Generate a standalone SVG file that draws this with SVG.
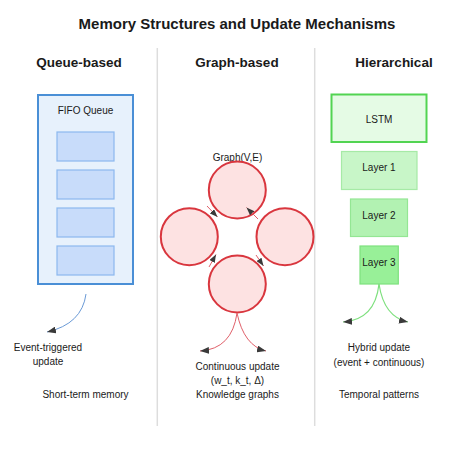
<svg xmlns="http://www.w3.org/2000/svg" width="474" height="474" viewBox="0 0 474 474">
<style>
text{font-family:"Liberation Sans",Arial,sans-serif;fill:#1a1a1a;text-anchor:middle}
.title{font-size:15px;font-weight:bold}
.hdr{font-size:13.5px;font-weight:bold}
.s{font-size:10px}
.div{stroke:#dddddd;stroke-width:1.5}
.slot{fill:#c8dcfa;stroke:#8cb8ee;stroke-width:1.2}
.node{fill:#fde2e2;stroke:#d9363e;stroke-width:2}
.redc{fill:none;stroke:#e0606a;stroke-width:1}
.greenc{fill:none;stroke:#7ee07e;stroke-width:1.2}
.bluec{fill:none;stroke:#6a9ad6;stroke-width:1}
</style>
<defs>
<marker id="ah" viewBox="0 0 9 7" refX="9" refY="3.5" markerWidth="9" markerHeight="7" markerUnits="userSpaceOnUse" orient="auto">
<path d="M0,0 L9,3.5 L0,7 z" fill="#3a3a3a"/>
</marker>
<marker id="ahs" viewBox="0 0 8 6" refX="8" refY="3" markerWidth="8" markerHeight="6" markerUnits="userSpaceOnUse" orient="auto">
<path d="M0,0 L8,3 L0,6 z" fill="#3a3a3a"/>
</marker>
</defs>
<rect width="474" height="474" fill="#ffffff"/>
<text class="title" x="237" y="28.5">Memory Structures and Update Mechanisms</text>
<g id="dividers">
<line class="div" x1="157.3" y1="48" x2="157.3" y2="426"/>
<line class="div" x1="314.7" y1="48" x2="314.7" y2="426"/>
</g>
<text class="hdr" x="79" y="66.5">Queue-based</text>
<text class="hdr" x="237" y="66.5">Graph-based</text>
<text class="hdr" x="394" y="66.5">Hierarchical</text>

<g id="queue">
<rect x="38" y="95" width="95" height="189" fill="#e7f1fc" stroke="#4a8fd6" stroke-width="2"/>
<text class="s" x="85.5" y="114">FIFO Queue</text>
<rect class="slot" x="57" y="132" width="57" height="29"/>
<rect class="slot" x="57" y="170" width="57" height="29"/>
<rect class="slot" x="57" y="208" width="57" height="29"/>
<rect class="slot" x="57" y="246" width="57" height="29"/>
</g>
<g id="queue-labels">
<text class="s" x="48" y="350.5">Event-triggered</text>
<text class="s" x="48" y="365">update</text>
<text class="s" x="85.5" y="398">Short-term memory</text>
</g>

<g id="graph">
<text class="s" x="237.5" y="161">Graph(V,E)</text>
<circle id="g-top" class="node" cx="237.3" cy="190" r="28.5"/>
<circle id="g-left" class="node" cx="189.3" cy="236.7" r="28.5"/>
<circle id="g-right" class="node" cx="285" cy="236.7" r="28.5"/>
<circle id="g-bottom" class="node" cx="237.3" cy="284" r="28.5"/>
</g>
<g id="graph-labels">
<text class="s" x="237.5" y="370">Continuous update</text>
<text class="s" x="237.5" y="384">(w_t, k_t, Δ)</text>
<text class="s" x="237.5" y="398">Knowledge graphs</text>
</g>

<g id="hier">
<rect x="331.5" y="94.5" width="95" height="47.5" fill="#e5fbe5" stroke="#52d452" stroke-width="2"/>
<text class="s" x="379" y="123">LSTM</text>
<rect x="341.5" y="151.5" width="75.5" height="38" fill="#c8f6c8" stroke="#a6eaa6" stroke-width="1.2"/>
<text class="s" x="379" y="171">Layer 1</text>
<rect x="350.5" y="199" width="57" height="37.5" fill="#b2f2b2" stroke="#94e694" stroke-width="1.2"/>
<text class="s" x="379" y="218.5">Layer 2</text>
<rect x="360" y="246" width="38.3" height="38" fill="#98f098" stroke="#7ee27e" stroke-width="1.2"/>
<text class="s" x="379" y="265.5">Layer 3</text>
</g>
<g id="hier-labels">
<text class="s" x="379" y="351">Hybrid update</text>
<text class="s" x="379" y="365.5">(event + continuous)</text>
<text class="s" x="379" y="398">Temporal patterns</text>
</g>

<g id="connectors">
<path class="bluec" d="M86,294 Q82,324 47,332" marker-end="url(#ah)"/>
<path class="redc" d="M207,206 L217.5,217" marker-end="url(#ahs)"/>
<path class="redc" d="M258,219 L246.5,207.5" marker-end="url(#ahs)"/>
<path class="redc" d="M209,267 L216,254.5" marker-end="url(#ahs)"/>
<path class="redc" d="M256,255 L263.5,266" marker-end="url(#ahs)"/>
<path class="redc" d="M237,313 Q232,349 200,351" marker-end="url(#ah)"/>
<path class="redc" d="M237,313 Q244,346 266,351" marker-end="url(#ah)"/>
<path class="greenc" d="M379,284 Q375,320 343,322" marker-end="url(#ah)"/>
<path class="greenc" d="M379,284 Q384,317 408,322" marker-end="url(#ah)"/>
</g>
</svg>
